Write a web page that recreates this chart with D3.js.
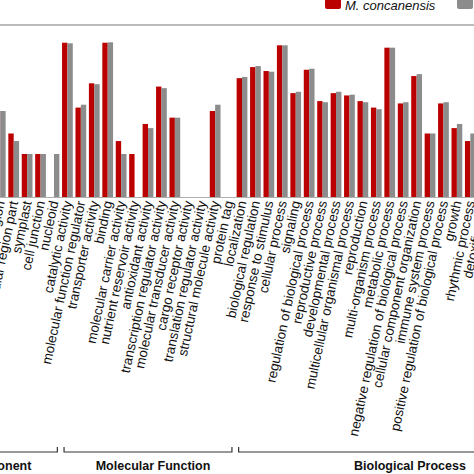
<!DOCTYPE html>
<meta charset="utf-8">

<!-- Load d3.js -->
<script src="https://d3js.org/d3.v7.min.js"></script>

<style>
  body { margin: 0; background: #fff; }
  svg { display: block; }
</style>

<!-- Create a div where the graph will take place -->
<div id="my_dataviz"></div>

<script>
  // GO terms (first one is cut at the left edge, last one at the right edge)
  var categories = ["extracellular region", "extracellular region part", "symplast", "cell junction", "nucleoid",
    "catalytic activity", "molecular function regulator", "transporter activity", "binding",
    "molecular carrier activity", "nutrient reservoir activity", "antioxidant activity",
    "transcription regulator activity", "molecular transducer activity", "cargo receptor activity",
    "translation regulator activity", "structural molecule activity", "protein tag",
    "localization", "biological regulation", "response to stimulus", "cellular process", "signaling",
    "regulation of biological process", "reproductive process", "developmental process",
    "multicellular organismal process", "reproduction", "multi-organism process", "metabolic process",
    "negative regulation of biological process", "cellular component organization",
    "immune system process", "positive regulation of biological process", "growth",
    "rhythmic process", "detoxification"
  ];
  // number of genes per term
  var concanensis = [10, 3, 1, 1, 0, 387, 12, 44, 387, 2, 1, 5, 37, 7, 0, 0, 10, 0,
    58, 105, 85, 337, 26, 91, 17, 26, 23, 17, 12, 297, 15, 65, 3, 15, 4, 2, 2];
  var oleifera = [10, 2, 1, 1, 1, 375, 14, 42, 396, 1, 0, 4, 34, 7, 0, 0, 14, 0,
    62, 111, 82, 337, 28, 96, 16, 28, 24, 16, 11, 297, 16, 72, 3, 16, 5, 3, 2];

  var seriesNames = ["M. concanensis", "M. oleifera"];
  var seriesColors = ["#bb0000", "#8c8c8c"];

  var groups = [
    { name: "Cellular Component", first: "extracellular region", last: "nucleoid", labelX: -28 },
    { name: "Molecular Function", first: "catalytic activity", last: "protein tag", labelX: 153 },
    { name: "Biological Process", first: "localization", last: "detoxification", labelX: 410 }
  ];

  var W = 474, H = 474;
  var baseY = 197, topY = 25;
  var step = 13.43, x0 = -6.45;

  var svg = d3.select("#my_dataviz")
    .append("svg")
    .attr("width", W)
    .attr("height", H)
    .style("font-family", "'Liberation Sans', Arial, sans-serif");

  // X scale: one band per term, sub-band per species
  var x = d3.scaleBand()
    .domain(categories)
    .range([x0, x0 + step * categories.length])
    .paddingInner(0.2)
    .paddingOuter(0.1);

  var xSub = d3.scaleBand()
    .domain(seriesNames)
    .range([0, x.bandwidth()])
    .padding(0);

  // log scale on gene numbers
  var y = d3.scaleLog()
    .domain([0.1, 1000])
    .range([baseY, topY]);

  // frame line
  svg.append("line")
    .attr("x1", 0).attr("x2", W)
    .attr("y1", topY).attr("y2", topY)
    .style("stroke", "#7a7a7a")
    .style("stroke-width", 1.2);

  var data = [];
  categories.forEach(function(c, i) {
    data.push({ cat: c, s: seriesNames[0], value: concanensis[i], color: seriesColors[0] });
    data.push({ cat: c, s: seriesNames[1], value: oleifera[i], color: seriesColors[1] });
  });

  // bars
  svg.append("g")
    .selectAll("rect")
    .data(data.filter(function(d) { return d.value > 0; }))
    .enter()
    .append("rect")
    .attr("x", function(d) { return x(d.cat) + xSub(d.s); })
    .attr("y", function(d) { return y(d.value); })
    .attr("width", xSub.bandwidth())
    .attr("height", function(d) { return baseY - y(d.value); })
    .style("fill", function(d) { return d.color; });

  svg.append("line")
    .attr("x1", 0).attr("x2", W)
    .attr("y1", baseY + 0.5).attr("y2", baseY + 0.5)
    .style("stroke", "#9a9a9a")
    .style("stroke-width", 0.8);

  // rotated term labels
  svg.append("g")
    .selectAll("text")
    .data(categories)
    .enter()
    .append("text")
    .attr("transform", function(d) {
      return "translate(" + (x(d) + x.bandwidth() / 2) + "," + (baseY + 4) + ") rotate(-78)";
    })
    .attr("text-anchor", "end")
    .attr("dy", "0.35em")
    .style("font-size", "13.5px")
    .style("fill", "#111")
    .text(function(d) { return d; });

  // group brackets
  var brY = 452;
  groups.forEach(function(g) {
    var a = x(g.first) + 2,
      b = x(g.last) + x.bandwidth() - 2;
    if (g.name == "Cellular Component") a = -200;
    if (g.name == "Biological Process") b = W + 100;
    svg.append("path")
      .attr("d", "M" + a + "," + (brY - 5) + "V" + brY + "H" + b + "V" + (brY - 5))
      .style("fill", "none")
      .style("stroke", "#333")
      .style("stroke-width", 1.2);
    svg.append("text")
      .attr("x", g.labelX)
      .attr("y", 470)
      .attr("text-anchor", "middle")
      .style("font-size", "12.5px")
      .style("font-weight", "bold")
      .style("fill", "#111")
      .text(g.name);
  });

  // legend (top right, partly cut)
  var legend = svg.append("g");
  var legX = [325, 457];
  seriesNames.forEach(function(s, i) {
    legend.append("rect")
      .attr("x", legX[i])
      .attr("y", -3)
      .attr("width", 16)
      .attr("height", 12)
      .attr("rx", 2)
      .style("fill", seriesColors[i]);
    legend.append("text")
      .attr("x", legX[i] + 20)
      .attr("y", 9.5)
      .style("font-size", "13px")
      .style("font-style", "italic")
      .style("fill", "#111")
      .text(s);
  });
</script>
